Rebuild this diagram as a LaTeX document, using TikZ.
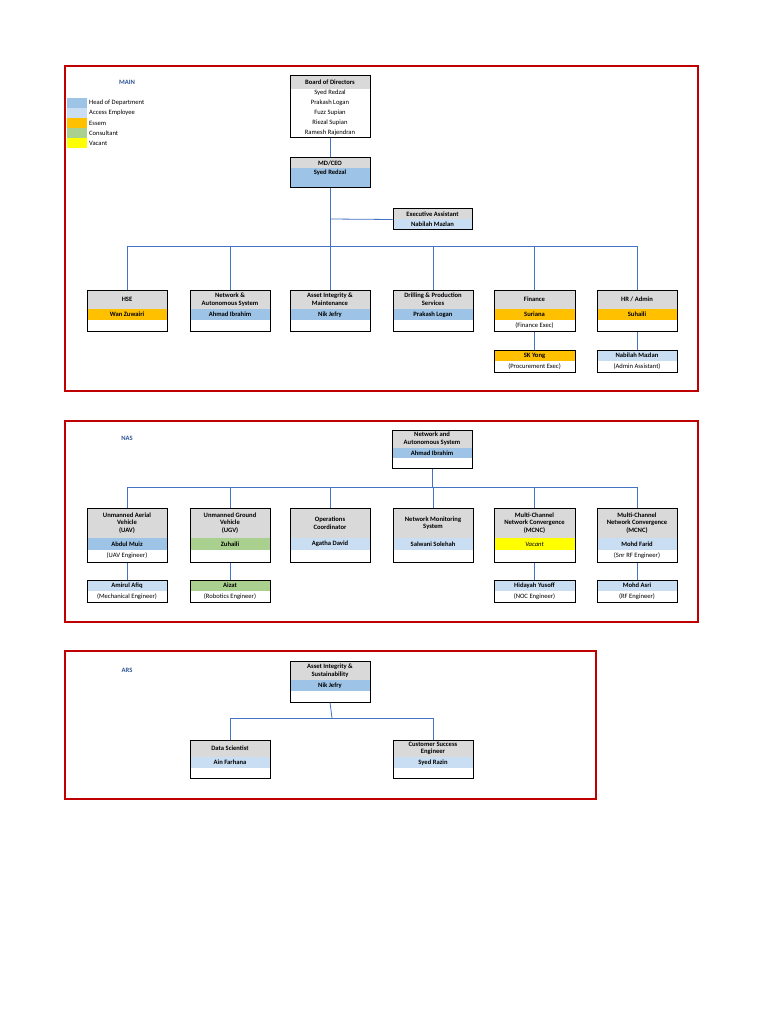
\documentclass[tikz,border=0pt]{standalone}
\usepackage{fontspec}
\setmainfont{Carlito}
\usetikzlibrary{fit,calc}
\definecolor{hod}{HTML}{9DC3E6}
\definecolor{acc}{HTML}{C9DEF2}
\definecolor{essem}{HTML}{FFC000}
\definecolor{cons}{HTML}{A9D08E}
\definecolor{vac}{HTML}{FFFF00}
\definecolor{hdr}{HTML}{D9D9D9}
\definecolor{conn}{HTML}{4472C4}
\definecolor{frame}{HTML}{C00000}
\definecolor{ttl}{HTML}{2F5597}
\tikzset{
  frm/.style={draw=frame,line width=1.6pt},
  con/.style={draw=conn,line width=0.8pt},
  txt/.style={font=\fontsize{6.6}{7.6}\selectfont,align=center,inner sep=0pt},
  btxt/.style={txt,font=\fontsize{6.6}{7.6}\selectfont\bfseries},
  sec/.style={font=\fontsize{6.6}{7.6}\selectfont\bfseries,text=ttl},
  lg/.style={font=\fontsize{6.6}{7.6}\selectfont,anchor=west,inner sep=0pt}
}
% name x1 x2 y0 y1 y2 y3 color header
\newcommand{\obox}[9]{%
  \fill[hdr] (#2,#4) rectangle (#3,#5);
  \fill[#8] (#2,#5) rectangle (#3,#6);
  \node[fit={(#2,#4)(#3,#7)},inner sep=0pt,draw=black,line width=1pt] (#1) {};
  \node[btxt] at ($(#2,#4)!0.5!(#3,#5)$) {#9};
  \coordinate (#1-b) at ($(#2,#5)!0.5!(#3,#6)$);
  \coordinate (#1-w) at ($(#2,#6)!0.5!(#3,#7)$);
}
\begin{document}
\begin{tikzpicture}[x=1pt,y=-1pt]
\useasboundingbox (0,0) rectangle (768,1024);
\fill[white] (0,0) rectangle (768,1024);
% frames
\draw[frm] (65,66) rectangle (698,391);
\draw[frm] (65,421) rectangle (698,622);
\draw[frm] (65,651) rectangle (596,799);
\node[sec] at (127,82) {MAIN};
\node[sec] at (127,438) {NAS};
\node[sec] at (127,670) {ARS};
% legend
\fill[hod] (67,98) rectangle (87,108);
\fill[acc] (67,108) rectangle (87,118);
\fill[essem] (67,118) rectangle (87,128);
\fill[cons] (67,128) rectangle (87,138);
\fill[vac] (67,138) rectangle (87,148);
\node[lg] at (89,103) {Head of Department};
\node[lg] at (89,113) {Access Employee};
\node[lg] at (89,123) {Essem};
\node[lg] at (89,133) {Consultant};
\node[lg] at (89,143) {Vacant};
% board
\fill[hdr] (290,76) rectangle (370,89);
\node[fit={(290,76)(370,138)},inner sep=0pt,draw=black,line width=1pt] (board) {};
\node[btxt] at (330,82.5) {Board of Directors};
\node[txt] at (330,93) {Syed Redzal};
\node[txt] at (330,103) {Prakash Logan};
\node[txt] at (330,113) {Fuzz Supian};
\node[txt] at (330,123) {Riezal Supian};
\node[txt] at (330,133) {Ramesh Rajendran};
% MD
\fill[hdr] (290,158) rectangle (370,168);
\fill[hod] (290,168) rectangle (370,188);
\node[fit={(290,158)(370,188)},inner sep=0pt,draw=black,line width=1pt] (md) {};
\node[btxt] at (330,163) {MD/CEO};
\node[btxt] at (330,173) {Syed Redzal};
% EA
\obox{ea}{393}{472}{209}{219}{230}{230}{acc}{Executive Assistant}
\node[btxt] at (ea-b) {Nabilah Mazlan};
% departments
\obox{hse}{87}{167}{290}{309}{320}{331}{essem}{HSE}
\obox{nas}{190}{270}{290}{309}{320}{331}{hod}{Network \&\\Autonomous System}
\obox{aim}{290}{370}{290}{309}{320}{331}{hod}{Asset Integrity \&\\Maintenance}
\obox{dps}{393}{473}{290}{309}{320}{331}{hod}{Drilling \& Production\\Services}
\obox{fin}{494}{575}{290}{309}{320}{331}{essem}{Finance}
\obox{hr}{597}{677}{290}{309}{320}{331}{essem}{HR / Admin}
\node[btxt] at (hse-b) {Wan Zuwairi};
\node[btxt] at (nas-b) {Ahmad Ibrahim};
\node[btxt] at (aim-b) {Nik Jefry};
\node[btxt] at (dps-b) {Prakash Logan};
\node[btxt] at (fin-b) {Suriana};
\node[btxt] at (hr-b) {Suhaili};
\node[txt] at (fin-w) {(Finance Exec)};
\obox{sky}{494}{575}{350}{350}{361}{372}{essem}{}
\node[btxt] at (sky-b) {SK Yong};
\node[txt] at (sky-w) {(Procurement Exec)};
\obox{nm}{597}{677}{350}{350}{361}{372}{acc}{}
\node[btxt] at (nm-b) {Nabilah Mazlan};
\node[txt] at (nm-w) {(Admin Assistant)};
% main connectors
\coordinate (jm) at (330,246);
\coordinate (jea) at (330,219);
\draw[con] (board.south) -- (md.south |- board.south) -- (md.north);
\draw[con] (md.south) -- (jm);
\draw[con] (jea) -- (ea.west);
\draw[con] (hse.north) -- (hse.north |- jm) -- (hr.north |- jm) -- (hr.north);
\foreach \n in {nas,aim,dps,fin}{\draw[con] (\n.north) -- (\n.north |- jm);}
\draw[con] (fin.south) -- (sky.north);
\draw[con] (hr.south) -- (nm.north);
% NAS
\obox{nt}{392}{472}{430}{448}{458}{468}{hod}{Network and\\Autonomous System}
\node[btxt] at (nt-b) {Ahmad Ibrahim};
\obox{uav}{87}{167}{508}{538}{550}{562}{hod}{Unmanned Aerial\\Vehicle\\(UAV)}
\obox{ugv}{190}{270}{508}{538}{550}{562}{cons}{Unmanned Ground\\Vehicle\\(UGV)}
\obox{ops}{290}{370}{508}{538}{550}{562}{acc}{Operations\\Coordinator}
\obox{nms}{393}{473}{508}{538}{550}{562}{acc}{Network Monitoring\\System}
\obox{mc1}{494}{575}{508}{538}{550}{562}{vac}{Multi-Channel\\Network Convergence\\(MCNC)}
\obox{mc2}{597}{677}{508}{538}{550}{562}{acc}{Multi-Channel\\Network Convergence\\(MCNC)}
\node[btxt] at (uav-b) {Abdul Muiz};
\node[txt] at (uav-w) {(UAV Engineer)};
\node[btxt] at (ugv-b) {Zuhaili};
\node[btxt] at (ops-b) {Agatha David};
\node[btxt] at (nms-b) {Salwani Solehah};
\node[txt,font=\fontsize{6.6}{7.6}\selectfont\itshape] at (mc1-b) {Vacant};
\node[btxt] at (mc2-b) {Mohd Farid};
\node[txt] at (mc2-w) {(Snr RF Engineer)};
\obox{aa}{87}{167}{580}{580}{591}{602}{acc}{}
\node[btxt] at (aa-b) {Amirul Afiq};
\node[txt] at (aa-w) {(Mechanical Engineer)};
\obox{az}{190}{270}{580}{580}{591}{602}{cons}{}
\node[btxt] at (az-b) {Aizat};
\node[txt] at (az-w) {(Robotics Engineer)};
\obox{hy}{494}{575}{580}{580}{591}{602}{acc}{}
\node[btxt] at (hy-b) {Hidayah Yusoff};
\node[txt] at (hy-w) {(NOC Engineer)};
\obox{ma}{597}{677}{580}{580}{591}{602}{acc}{}
\node[btxt] at (ma-b) {Mohd Asri};
\node[txt] at (ma-w) {(RF Engineer)};
\coordinate (jn) at (432,487);
\draw[con] (nt.south) -- (jn);
\draw[con] (uav.north) -- (uav.north |- jn) -- (mc2.north |- jn) -- (mc2.north);
\foreach \n in {ugv,ops,nms,mc1}{\draw[con] (\n.north) -- (\n.north |- jn);}
\draw[con] (uav.south) -- (aa.north);
\draw[con] (ugv.south) -- (az.north);
\draw[con] (mc1.south) -- (hy.north);
\draw[con] (mc2.south) -- (ma.north);
% ARS
\obox{ais}{290}{370}{661}{680}{691}{702}{hod}{Asset Integrity \&\\Sustainability}
\node[btxt] at (ais-b) {Nik Jefry};
\obox{ds}{190}{270}{740}{757}{768}{778}{acc}{Data Scientist}
\node[btxt] at (ds-b) {Ain Farhana};
\obox{cse}{393}{473}{740}{757}{768}{778}{acc}{Customer Success\\Engineer}
\node[btxt] at (cse-b) {Syed Razin};
\coordinate (ja) at (332,718);
\draw[con] (ais.south) -- (ja);
\draw[con] (232,718) -- (433,718);
\draw[con] (ds.north) -- (ds.north |- ja) -- (cse.north |- ja) -- (cse.north);
\end{tikzpicture}
\end{document}
